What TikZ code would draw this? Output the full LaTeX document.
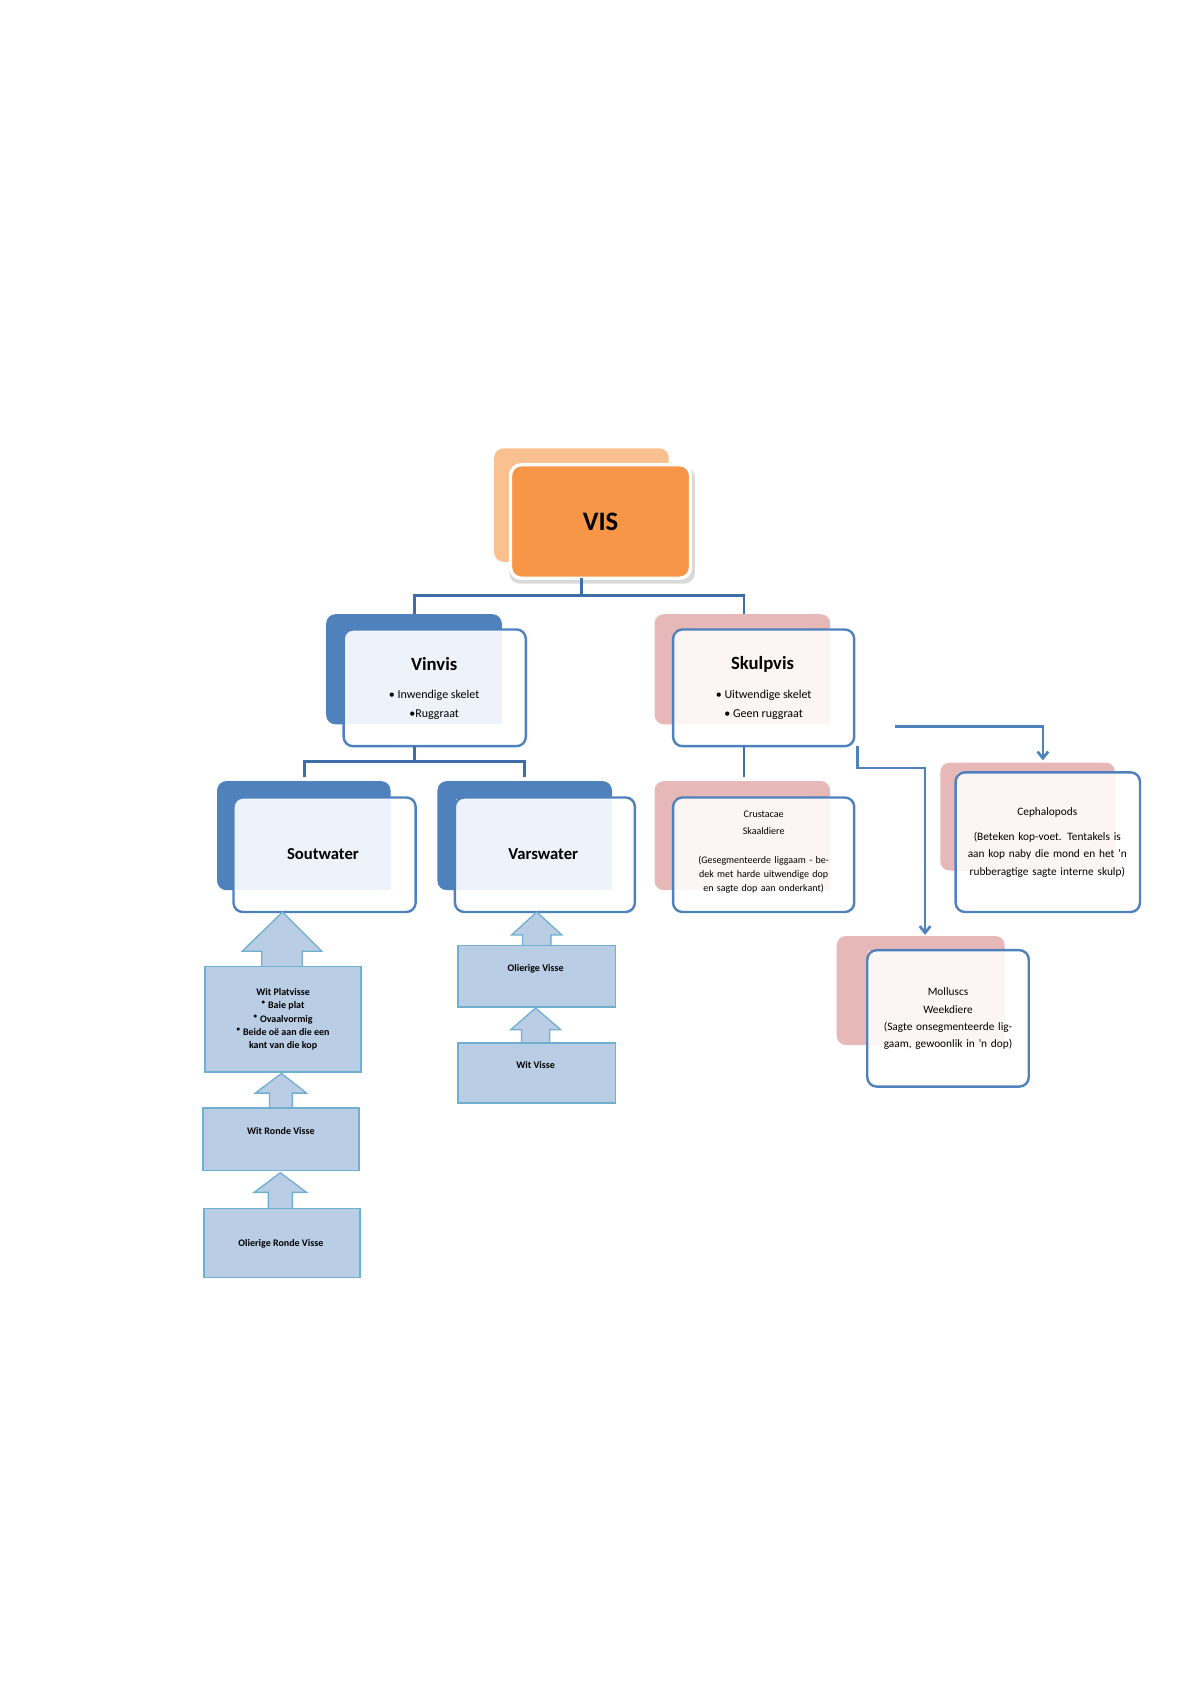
\documentclass[tikz,border=0pt]{standalone}
\usepackage{fontspec}
\setmainfont{Carlito}
\usetikzlibrary{arrows.meta}
\definecolor{org}{HTML}{F79646}\definecolor{orgl}{HTML}{FAC090}
\definecolor{dblue}{HTML}{4F81BD}\definecolor{lblue}{HTML}{EEF2FA}
\definecolor{pink}{HTML}{E6B9B8}\definecolor{lpink}{HTML}{FBF5F5}
\definecolor{ablue}{HTML}{B9CDE5}\definecolor{aedge}{HTML}{6FB0D0}
\definecolor{lnblue}{HTML}{3E6DA8}
\tikzset{
 frame/.style={draw=dblue,line width=1.8pt,rounded corners=7pt},
 backb/.style={rounded corners=7pt},
 conn/.style={draw=lnblue,line width=2pt},
 carr/.style={draw=dblue,line width=2pt,-{Straight Barb[length=5pt,width=8pt]}},
 bluebox/.style={fill=ablue,draw=aedge,line width=1pt},
 txt/.style={align=center,inner sep=0pt,text=black}
}
\begin{document}
\begin{tikzpicture}[x=0.818pt,y=-0.818pt]
\useasboundingbox (0,0) rectangle (1100,1556.5);
% VIS
\fill[orgl,backb] (453,411) rectangle (613,515);
\fill[gray!30,rounded corners=8pt] (467,428) rectangle (637,535);
\draw[draw=white,fill=org,line width=2.5pt,rounded corners=8pt] (468,426) rectangle (633,530);
\node[txt,font=\bfseries\fontsize{20}{22}\selectfont] (vis) at (550.5,478) {VIS};
% connectors level 1
\coordinate (c0) at (533,530);
\draw[conn] (c0) -- (533,546) -- (380,546) -- (380,577);
\draw[conn] (533,546) -- (682,546) -- (682,577);
% Vinvis
\fill[dblue,backb] (299,563) rectangle (460,664);
\fill[white,rounded corners=7pt] (315,577) rectangle (482,684);
\fill[lblue] (316,578) rectangle (460,664);
\draw[frame] (315,577) rectangle (482,684);
\node[txt,font=\bfseries\fontsize{14}{16}\selectfont] (vin) at (398,609) {Vinvis};
\node[txt,font=\fontsize{9}{14}\selectfont] at (398,646) {• Inwendige skelet\\ •Ruggraat};
% Skulpvis
\fill[pink,backb] (600,563) rectangle (761,664);
\fill[white,rounded corners=7pt] (617,577) rectangle (783,684);
\fill[lpink] (618,578) rectangle (761,664);
\draw[frame] (617,577) rectangle (783,684);
\node[txt,font=\bfseries\fontsize{14}{16}\selectfont] (sku) at (699,609) {Skulpvis};
\node[txt,font=\fontsize{9}{14}\selectfont] at (700,646) {• Uitwendige skelet\\ • Geen ruggraat};
% connectors level 2
\draw[conn] (380,684) -- (380,698) -- (279,698) -- (279,712);
\draw[conn] (380,698) -- (481,698) -- (481,712);
\draw[conn] (682,684) -- (682,712);
\draw[carr] (786,684) -- (786,704) -- (848,704) -- (848,857);
\draw[carr] (820,666) -- (956,666) -- (956,697);
% Soutwater
\fill[dblue,backb] (199,716) rectangle (358,816);
\fill[white,rounded corners=7pt] (214,731) rectangle (381,836);
\fill[lblue] (215,732) rectangle (358,816);
\draw[frame] (214,731) rectangle (381,836);
\node[txt,font=\bfseries\fontsize{12.5}{14}\selectfont] (sout) at (296,783) {Soutwater};
% Varswater
\fill[dblue,backb] (401,716) rectangle (561,816);
\fill[white,rounded corners=7pt] (417,731) rectangle (582,836);
\fill[lblue] (418,732) rectangle (561,816);
\draw[frame] (417,731) rectangle (582,836);
\node[txt,font=\bfseries\fontsize{12.5}{14}\selectfont] (vars) at (498,783) {Varswater};
% Crustacae
\fill[pink,backb] (600,716) rectangle (761,816);
\fill[white,rounded corners=7pt] (617,731) rectangle (783,836);
\fill[lpink] (618,732) rectangle (761,816);
\draw[frame] (617,731) rectangle (783,836);
\node[txt,font=\fontsize{7.5}{12.5}\selectfont] (cru) at (700,754) {Crustacae\\ Skaaldiere};
\node[txt,font=\fontsize{7.5}{10.5}\selectfont,text width=125pt] at (700,802) {(Gesegmenteerde liggaam - bedek met harde uitwendige dop en sagte dop aan onderkant)};
% Cephalopods
\fill[pink,backb] (862,699) rectangle (1022,798);
\fill[white,rounded corners=7pt] (876,708) rectangle (1045,836);
\fill[lpink] (877,709) rectangle (1022,798);
\draw[frame] (876,708) rectangle (1045,836);
\node[txt,font=\fontsize{8.5}{13}\selectfont,text width=125pt] (cep) at (960,772) {Cephalopods\\[6pt](Beteken kop-voet. Tentakels is aan kop naby die mond en het 'n rubberagtige sagte interne skulp)};
% Molluscs
\fill[pink,backb] (767,858) rectangle (921,958);
\fill[white,rounded corners=7pt] (795,871) rectangle (943,996);
\fill[lpink] (796,872) rectangle (921,958);
\draw[frame] (795,871) rectangle (943,996);
\node[txt,font=\fontsize{8.5}{13}\selectfont,text width=100pt] (mol) at (869,934) {Molluscs\\ Weekdiere\\ (Sagte onsegmenteerde liggaam, gewoonlik in 'n dop)};
% block arrows left
\draw[bluebox] (259,836) -- (295,872) -- (277,872) -- (277,888) -- (240,888) -- (240,872) -- (222,872) -- cycle;
\node[bluebox,minimum width=117pt,minimum height=79pt,inner sep=0pt] (wp) at (259.5,934.5) {};
\node[txt,font=\bfseries\fontsize{7.5}{10}\selectfont] at (wp) {Wit Platvisse\\ \textsuperscript{•} Baie plat\\ \textsuperscript{•} Ovaalvormig\\ \textsuperscript{•} Beide oë aan die een\\ kant van die kop};
\draw[bluebox] (258,984) -- (281,1002) -- (268,1002) -- (268,1018) -- (247,1018) -- (247,1002) -- (234,1002) -- cycle;
\node[bluebox,minimum width=117pt,minimum height=47pt,inner sep=0pt] (wr) at (257.5,1044.5) {};
\node[txt,font=\bfseries\fontsize{7.5}{10}\selectfont] at (257.5,1037) {Wit Ronde Visse};
\draw[bluebox] (257,1075) -- (281,1093) -- (268,1093) -- (268,1110) -- (246,1110) -- (246,1093) -- (233,1093) -- cycle;
\node[bluebox,minimum width=117pt,minimum height=51.5pt,inner sep=0pt] (or) at (258.5,1139.5) {};
\node[txt,font=\bfseries\fontsize{7.5}{10}\selectfont] at (257.5,1140) {Olierige Ronde Visse};
% block arrows right
\draw[bluebox] (492,836) -- (515,857) -- (505,857) -- (505,869) -- (479,869) -- (479,857) -- (469,857) -- cycle;
\node[bluebox,minimum width=118pt,minimum height=46pt,inner sep=0pt] (ov) at (492,895) {};
\node[txt,font=\bfseries\fontsize{7.5}{10}\selectfont] at (491,888) {Olierige Visse};
\draw[bluebox] (491,924) -- (514,944) -- (504,944) -- (504,958) -- (478,958) -- (478,944) -- (468,944) -- cycle;
\node[bluebox,minimum width=118pt,minimum height=45pt,inner sep=0pt] (wv) at (492,983.5) {};
\node[txt,font=\bfseries\fontsize{7.5}{10}\selectfont] at (491,976) {Wit Visse};
\end{tikzpicture}
\end{document}
